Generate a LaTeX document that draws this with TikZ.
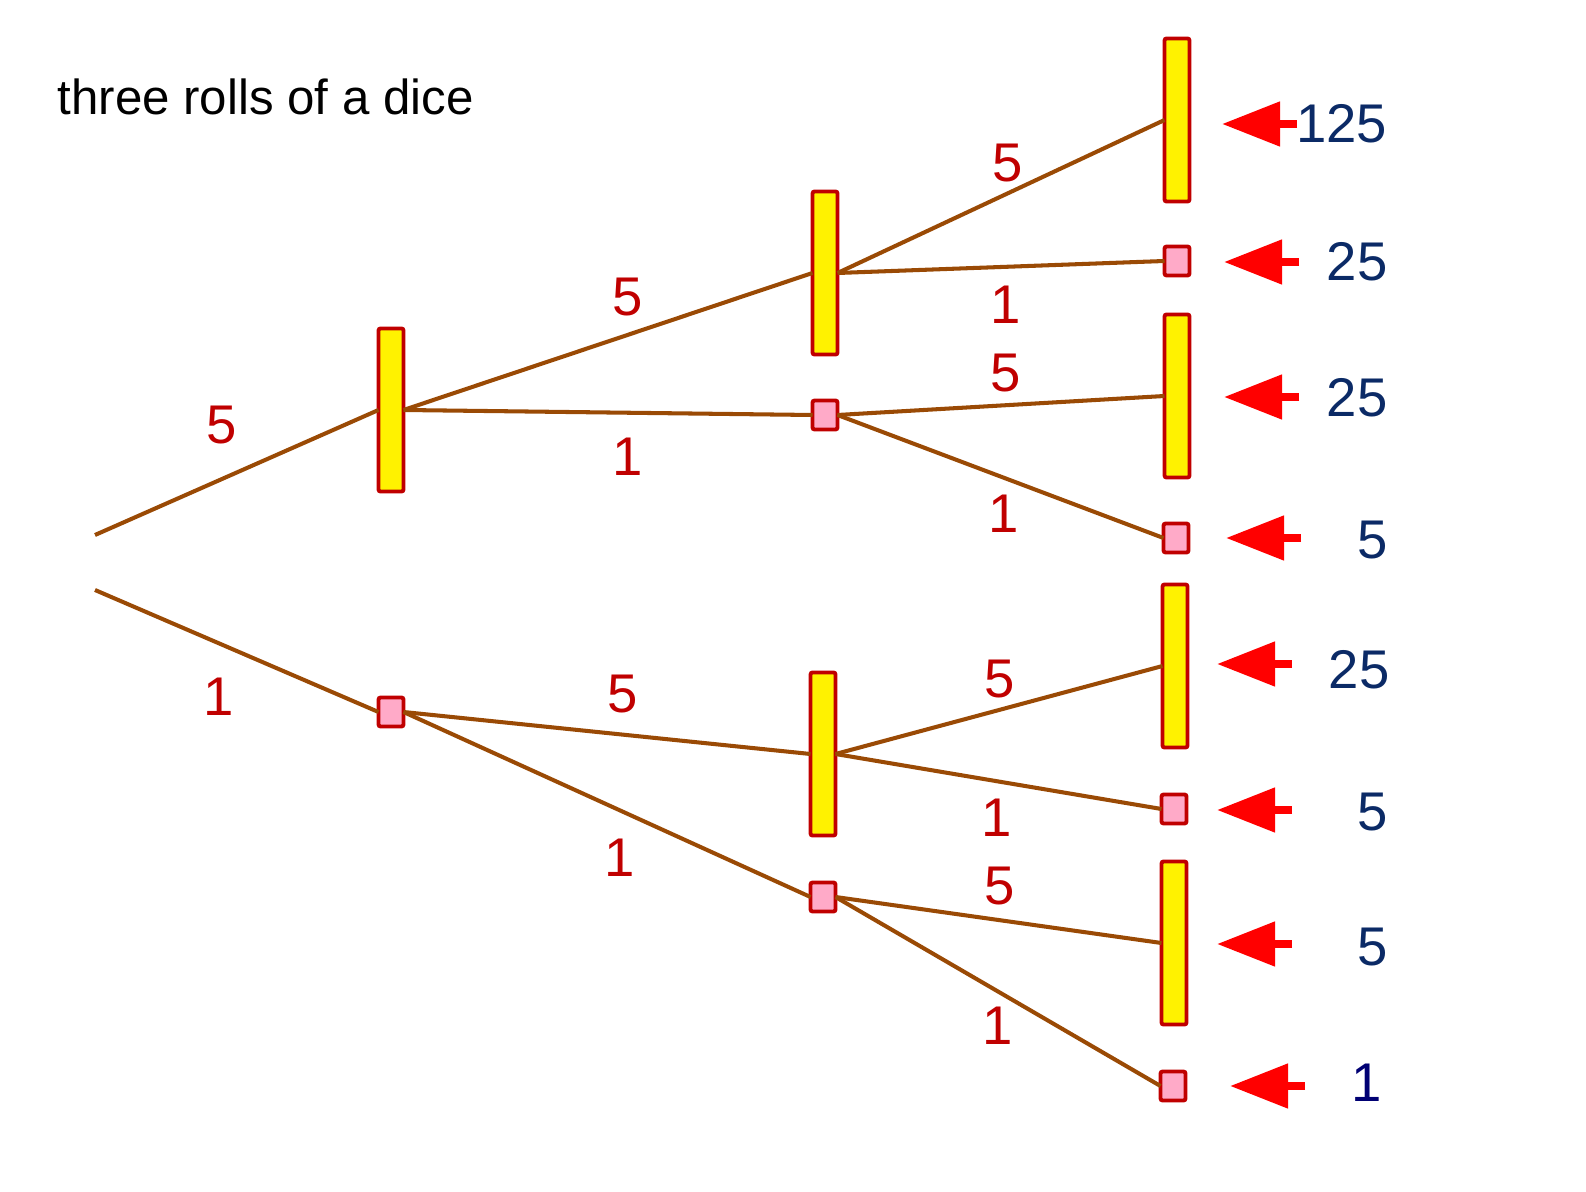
\documentclass[tikz,border=0pt]{standalone}
\usepackage{fontspec}
\setmainfont{Liberation Sans}
\usetikzlibrary{positioning}
\usetikzlibrary{arrows.meta}
\definecolor{edgered}{HTML}{C00000}
\definecolor{baryellow}{HTML}{FFF200}
\definecolor{boxpink}{HTML}{FFAAC8}
\definecolor{branchbrown}{HTML}{9A4A05}
\definecolor{countblue}{HTML}{0B2A66}
\tikzset{
  bigbar/.style={draw=edgered, fill=baryellow, line width=1.1pt, rounded corners=0.6pt,
    minimum width=0.25cm, minimum height=1.63cm, inner sep=0pt, outer sep=0pt},
  smallbox/.style={draw=edgered, fill=boxpink, line width=1.1pt, rounded corners=0.6pt,
    minimum width=0.25cm, minimum height=0.29cm, inner sep=0pt, outer sep=0pt},
  branch/.style={draw=branchbrown, line width=1.15pt},
  weight/.style={text=edgered, inner sep=0pt, font=\fontsize{15.5}{18}\selectfont},
  total/.style={text=countblue, inner sep=0pt, anchor=east, font=\fontsize{15.5}{18}\selectfont},
  pointer/.style={draw=red, line width=2.3pt, -{Triangle[length=0.58cm,width=0.43cm]}}
}

\begin{document}
\begin{tikzpicture}[x=0.01cm, y=-0.01cm]
  \useasboundingbox (0,0) rectangle (1586,1192);
  \node[anchor=west, inner sep=0pt, font=\fontsize{14}{16}\selectfont] (title) at (57,97) {three rolls of a dice};

  % first roll
  \coordinate (rootfive) at (95,535);
  \coordinate (rootone) at (95,590);
  \node[bigbar] (a5) at (391,410) {};
  \node[smallbox] (a1) at (391,712) {};

  % second roll
  \node[bigbar] (b55) at (825,273) {};
  \node[smallbox] (b51) at (825,415) {};
  \node[bigbar] (b15) at (823,754) {};
  \node[smallbox] (b11) at (823,897) {};

  % third roll
  \node[bigbar] (c555) at (1177,120) {};
  \node[smallbox] (c551) at (1177,261) {};
  \node[bigbar] (c515) at (1177,396) {};
  \node[smallbox] (c511) at (1176,538) {};
  \node[bigbar] (c155) at (1175,666) {};
  \node[smallbox] (c151) at (1174,809) {};
  \node[bigbar] (c115) at (1174,943) {};
  \node[smallbox] (c111) at (1173,1086) {};

  % branches
  \draw[branch] (rootfive) -- (a5.west);
  \draw[branch] (rootone) -- (a1.west);
  \draw[branch] (a5.east) -- (b55.west);
  \draw[branch] (a5.east) -- (b51.west);
  \draw[branch] (a1.east) -- (b15.west);
  \draw[branch] (a1.east) -- (b11.west);
  \draw[branch] (b55.east) -- (c555.west);
  \draw[branch] (b55.east) -- (c551.west);
  \draw[branch] (b51.east) -- (c515.west);
  \draw[branch] (b51.east) -- (c511.west);
  \draw[branch] (b15.east) -- (c155.west);
  \draw[branch] (b15.east) -- (c151.west);
  \draw[branch] (b11.east) -- (c115.west);
  \draw[branch] (b11.east) -- (c111.west);

  % weights on the branches
  \node[weight] (wa5) at (222,425) {5};
  \node[weight] (wa1) at (219,697) {1};
  \node[weight] (wb55) at (628,297) {5};
  \node[weight] (wb51) at (628,457) {1};
  \node[weight] (wb15) at (623,694) {5};
  \node[weight] (wb11) at (620,858) {1};
  \node[weight] (wc555) at (1008,163) {5};
  \node[weight] (wc551) at (1006,305) {1};
  \node[weight] (wc515) at (1006,373) {5};
  \node[weight] (wc511) at (1004,514) {1};
  \node[weight] (wc155) at (1000,679) {5};
  \node[weight] (wc151) at (997,818) {1};
  \node[weight] (wc115) at (1000,886) {5};
  \node[weight] (wc111) at (998,1026) {1};

  % counts with pointers
  \node[total] (t555) at (1388,124) {125};
  \node[total] (t551) at (1388,262) {25};
  \node[total] (t515) at (1388,398) {25};
  \node[total] (t511) at (1388,540) {5};
  \node[total] (t155) at (1390,670) {25};
  \node[total] (t151) at (1388,812) {5};
  \node[total] (t115) at (1388,947) {5};
  \node[total, text=blue!45!black] (t111) at (1382,1083) {1};
  \foreach \i/\xt/\yt in {1/1222/124, 2/1224/262, 3/1224/397, 4/1226/538,
                          5/1217/664, 6/1217/810, 7/1217/944, 8/1230/1086} {
    \coordinate (tip\i) at (\xt,\yt);
    \coordinate (tail\i) at (\xt+75,\yt);
    \draw[pointer] (tail\i) -- (tip\i);
  }
\end{tikzpicture}
\end{document}
